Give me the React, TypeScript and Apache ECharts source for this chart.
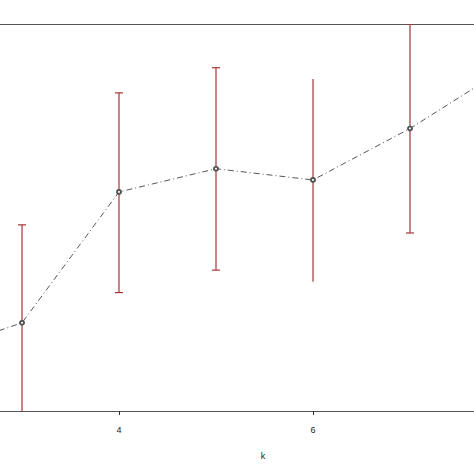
import React, { useEffect, useRef } from 'react';
import * as echarts from 'echarts';

// k values and mean of the statistic (y scale read as 0..1 over the plot box)
const kValues = [2, 3, 4, 5, 6, 7, 8];
const meanValues = [0.142, 0.228, 0.566, 0.626, 0.597, 0.73, 0.888];

// error bars (only those visible in the picture)
const barK = [3, 4, 5, 6, 7];
const barLower = [-0.024, 0.306, 0.364, 0.334, 0.46];
const barUpper = [0.481, 0.822, 0.887, 0.858, 1.0];
const barCap = [1, 1, 1, 0, 1];

const tickValues = [4, 6];

// visible part of the k axis (the picture is cropped on both sides)
const xMin = 2.773;
const xMax = 7.66;

const App: React.FC = () => {
    const chartRef = useRef<HTMLDivElement>(null);

    useEffect(() => {
        if (!chartRef.current) return;
        const chart = echarts.init(chartRef.current, null, { renderer: 'svg' });

        const lineData = kValues.map((k, i) => [k, meanValues[i]]);
        const barData = barK.map((k, i) => [k, barLower[i], barUpper[i], barCap[i]]);

        const option = {
            animation: false,
            backgroundColor: '#fff',
            grid: {
                left: 0,
                right: 0,
                top: 24,
                bottom: 63
            },
            xAxis: [
                {
                    type: 'value',
                    min: xMin,
                    max: xMax,
                    name: 'k',
                    nameLocation: 'middle',
                    nameGap: 40,
                    nameTextStyle: {
                        fontFamily: 'Liberation Sans',
                        fontSize: 9,
                        color: '#222',
                        padding: [0, 0, 0, 52]
                    },
                    axisLine: { show: true, lineStyle: { color: '#555', width: 1 } },
                    axisTick: { show: true, length: 4, customValues: tickValues, lineStyle: { color: '#333' } },
                    axisLabel: {
                        customValues: tickValues,
                        margin: 14,
                        fontFamily: 'Liberation Sans',
                        fontSize: 9,
                        color: '#222'
                    },
                    splitLine: { show: false }
                },
                {
                    // top edge of the box
                    type: 'value',
                    position: 'top',
                    min: xMin,
                    max: xMax,
                    axisLine: { show: true, lineStyle: { color: '#555', width: 1 } },
                    axisTick: { show: false },
                    axisLabel: { show: false },
                    splitLine: { show: false }
                }
            ],
            yAxis: {
                type: 'value',
                min: 0,
                max: 1,
                axisLine: { show: false },
                axisTick: { show: false },
                axisLabel: { show: false },
                splitLine: { show: false }
            },
            series: [
                {
                    type: 'custom',
                    clip: true,
                    data: barData,
                    renderItem: (params: any, api: any) => {
                        const x = api.value(0);
                        const lo = api.coord([x, api.value(1)]);
                        const hi = api.coord([x, api.value(2)]);
                        const cap = api.value(3);
                        const style = { stroke: '#a83438', lineWidth: 1.2 };
                        const children: any[] = [
                            { type: 'line', shape: { x1: lo[0], y1: lo[1], x2: hi[0], y2: hi[1] }, style }
                        ];
                        if (cap) {
                            children.push(
                                { type: 'line', shape: { x1: lo[0] - 4, y1: lo[1], x2: lo[0] + 4, y2: lo[1] }, style },
                                { type: 'line', shape: { x1: hi[0] - 4, y1: hi[1], x2: hi[0] + 4, y2: hi[1] }, style }
                            );
                        }
                        return { type: 'group', children };
                    }
                },
                {
                    type: 'line',
                    data: lineData,
                    clip: true,
                    symbol: 'emptyCircle',
                    symbolSize: 4,
                    itemStyle: { color: '#555', borderWidth: 0.8 },
                    lineStyle: { color: '#444', width: 0.9, type: [6, 3, 1, 3] },
                    z: 3
                }
            ]
        };

        chart.setOption(option);

        return () => {
            chart.dispose();
        };
    }, []);

    return (
        <div
            ref={chartRef}
            style={{ position: 'fixed', left: 0, top: 0, width: '474px', height: '474px' }}
        />
    );
};

export default App;
